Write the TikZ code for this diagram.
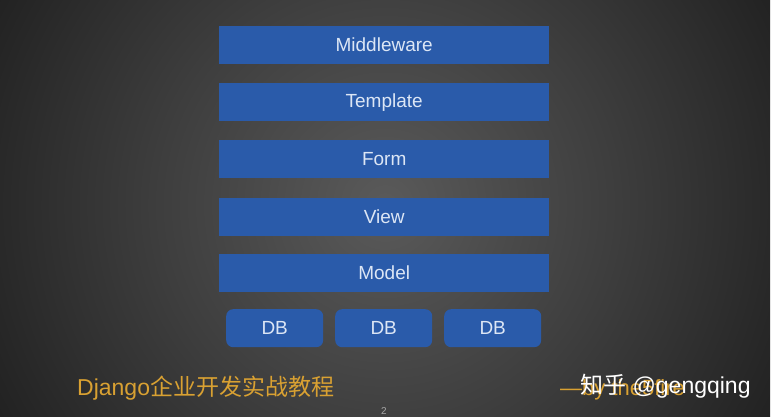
\documentclass[tikz,border=0pt]{standalone}
\usepackage{fontspec}
\setmainfont{Liberation Sans}
\newfontfamily\cjk{Noto Sans CJK SC}
\definecolor{boxblue}{HTML}{2A5BAA}
\definecolor{boxtext}{HTML}{DCE6F5}
\definecolor{footorange}{HTML}{D9A132}
\definecolor{bgin}{HTML}{5A5A5A}
\definecolor{bgmid}{HTML}{3E3E3E}
\definecolor{bgout}{HTML}{1E1E1E}
\pgfdeclareradialshading{bgshade}{\pgfpoint{0bp}{0bp}}{color(0bp)=(bgin); color(12bp)=(bgmid); color(25bp)=(bgout); color(50bp)=(bgout)}
\tikzset{
  layer/.style={fill=boxblue, draw=none, minimum width=330pt, minimum height=38pt,
    inner sep=0pt, text=boxtext, font=\fontsize{19}{22}\selectfont, anchor=north west},
  dbbox/.style={fill=boxblue, draw=none, rounded corners=7pt, minimum width=97pt,
    minimum height=38pt, inner sep=0pt, text=boxtext, font=\fontsize{19}{22}\selectfont, anchor=north west}
}
\begin{document}
\begin{tikzpicture}[x=1pt,y=-1pt]
\useasboundingbox (0,0) rectangle (774,420);
\fill[white] (0,0) rectangle (774,420);
\begin{scope}
\clip (0,0) rectangle (770,416);
\fill[bgout] (0,0) rectangle (770,416);
\shade[shading=bgshade] (385,205) circle (470);
\end{scope}
\node[layer] (mw) at (219,26) {Middleware};
\node[layer] (tp) at (219,83) {Template};
\node[layer] (fm) at (219,140) {Form};
\node[layer] (vw) at (219,198) {View};
\node[layer] (md) at (219,254) {Model};
\node[dbbox] (db1) at (226,309) {DB};
\node[dbbox] (db2) at (335,309) {DB};
\node[dbbox] (db3) at (444,309) {DB};
\node[anchor=base west, inner sep=0pt, text=footorange, font=\fontsize{23}{27}\selectfont] (title) at (77,395) {Django{\cjk 企业开发实战教程}};
\node[anchor=base west, inner sep=0pt, text=footorange, font=\fontsize{22}{26}\selectfont] (by) at (560,395) {—by the5fire};
\node[anchor=base west, inner sep=0pt, text=white, font=\fontsize{23}{27}\selectfont] (wm) at (580,393) {{\cjk 知乎} @gengqing};
\node[anchor=base, inner sep=0pt, text=gray!70, font=\fontsize{10}{12}\selectfont] (pg) at (384,414) {2};
\end{tikzpicture}
\end{document}
